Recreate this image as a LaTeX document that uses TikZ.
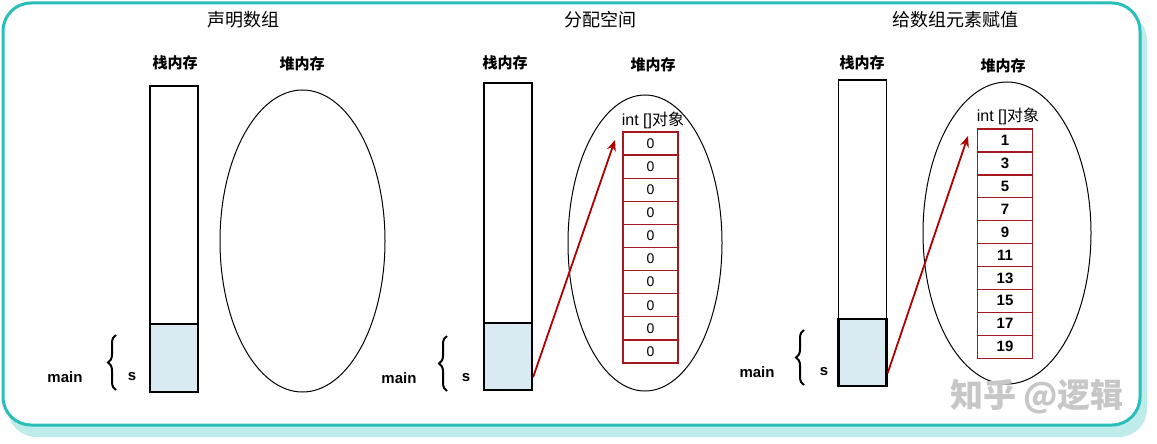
\documentclass[tikz,border=0pt]{standalone}
\usepackage{fontspec}
\setmainfont{Liberation Sans}
\newfontfamily\cjk{Noto Sans CJK SC}
\usetikzlibrary{calc,arrows.meta,decorations.pathreplacing}
\definecolor{frameteal}{RGB}{40,190,185}
\definecolor{cellred}{RGB}{165,25,30}
\definecolor{arrowred}{RGB}{175,0,0}
\definecolor{slotblue}{RGB}{218,234,242}
\tikzset{
	stackbox/.style={draw, line width=1.6pt, minimum width=48pt, inner sep=0pt},
	slotbox/.style={draw, line width=2.2pt, fill=slotblue, minimum width=48pt, inner sep=0pt},
	cellbox/.style={draw=cellred, line width=1.2pt, minimum width=55pt, minimum height=23pt, inner sep=0pt},
	refarrow/.style={arrowred, line width=1.8pt, -{Stealth[length=11pt,width=9pt]}},
	framebrace/.style={decorate, decoration={brace, amplitude=8pt}, line width=2pt},
	titletext/.style={font=\cjk\fontsize{18}{18}\selectfont},
	memtext/.style={font=\cjk\bfseries\fontsize{15}{15}\selectfont},
	vartext/.style={font=\bfseries\fontsize{15}{15}\selectfont},
	objtext/.style={font=\fontsize{16}{16}\selectfont}
}
\begin{document}
\begin{tikzpicture}[x=1pt, y=-1pt]
			%%%%% START %%%%%
			\useasboundingbox (0, 0) rectangle (1157, 444);
			
			\fill[frameteal!30, rounded corners=28pt] (8, 12) rectangle (1147, 437);
			\draw[frameteal, line width=3pt, fill=white, rounded corners=28pt] (3, 3) rectangle (1140, 425);
			
			%% panel 1
			\node[titletext] (titleA) at (243, 20) {声明数组};
			\node[memtext] (stackA) at (175, 63) {栈内存};
			\node[memtext] (heapA) at (302, 64) {堆内存};
			\node[stackbox, minimum height=306pt] (stackboxA) at (174, 239) {};
			\node[slotbox, minimum height=68pt] (slotA) at (174, 358) {};
			\draw[line width=1pt] (302.5, 241) ellipse [x radius=82.5, y radius=151];
			\node[vartext] (mainA) at (65, 377) {main};
			\draw[framebrace] (116, 390) -- (116, 335);
			\node[vartext] (varA) at (132, 377) {s};
			
			%% panel 2
			\node[titletext] (titleB) at (600, 20) {分配空间};
			\node[memtext] (stackB) at (505, 63) {栈内存};
			\node[memtext] (heapB) at (653, 65) {堆内存};
			\node[stackbox, minimum height=307pt] (stackboxB) at (508, 236.5) {};
			\node[slotbox, minimum height=67pt] (slotB) at (508, 356.5) {};
			\draw[line width=1pt] (645, 243) ellipse [x radius=77, y radius=148];
			\node[objtext] (objB) at (653, 120) {int []{\cjk 对象}};
			\foreach \v [count=\i] in {0,0,0,0,0,0,0,0,0,0}
				\node[cellbox, font=\fontsize{14}{14}\selectfont] (cellB\i) at (650.5, {143.5+(\i-1)*23.1}) {\v};
			\node[vartext] (mainB) at (399, 378) {main};
			\draw[framebrace] (447, 391) -- (447, 336);
			\node[vartext] (varB) at (466, 378) {s};
			\coordinate (tipB) at (615, 140);
			\draw[refarrow] ($(slotB.east)!0.6!(slotB.south east)$) -- (tipB);
			
			%% panel 3
			\node[titletext] (titleC) at (955, 20) {给数组元素赋值};
			\node[memtext] (stackC) at (862, 63) {栈内存};
			\node[memtext] (heapC) at (1003, 66) {堆内存};
			\node[stackbox, minimum height=306pt] (stackboxC) at (862.5, 233) {};
			\node[slotbox, minimum height=67pt] (slotC) at (862.5, 352.5) {};
			\draw[line width=1pt] (1007, 233) ellipse [x radius=84, y radius=151];
			\node[objtext] (objC) at (1008, 116) {int []{\cjk 对象}};
			\foreach \v [count=\i] in {1,3,5,7,9,11,13,15,17,19}
				\node[cellbox, font=\bfseries\fontsize{15}{15}\selectfont] (cellC\i) at (1005, {140.5+(\i-1)*22.9}) {\v};
			\node[vartext] (mainC) at (757, 372) {main};
			\draw[framebrace] (804, 385) -- (804, 330);
			\node[vartext] (varC) at (824, 372) {s};
			\coordinate (tipC) at (968, 136);
			\draw[refarrow] ($(slotC.east)!0.6!(slotC.south east)$) -- (tipC);
			
			\node[font=\cjk\bfseries\fontsize{33}{33}\selectfont, text=black!22] (mark) at (1037, 397) {知乎 @逻辑};
			%%%%% END %%%%%
\end{tikzpicture}
\end{document}
